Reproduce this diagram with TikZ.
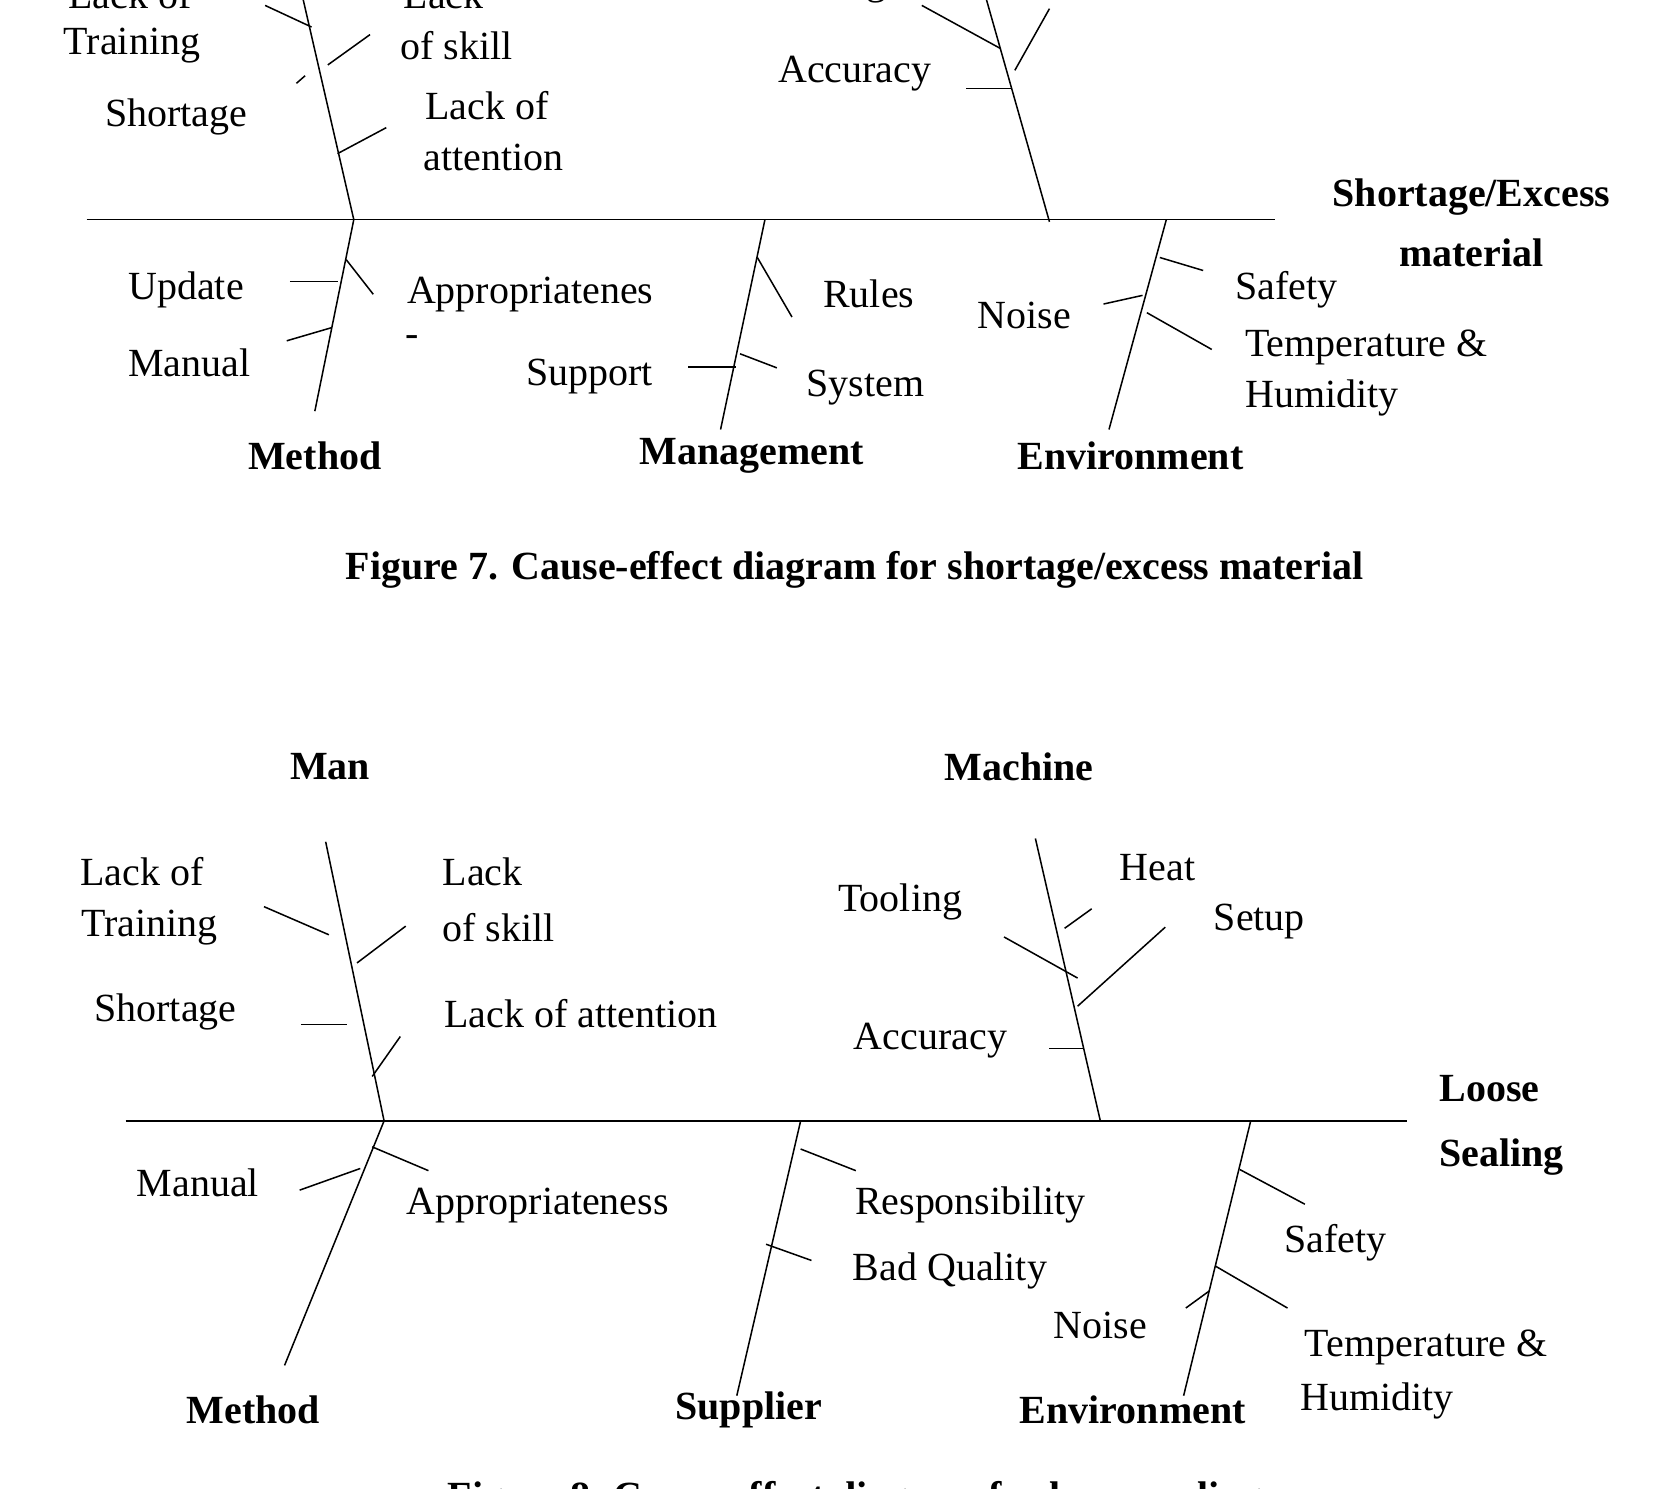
\documentclass[tikz,border=0pt]{standalone}
\usepackage{fontspec}
\setmainfont{Liberation Serif}
\usepackage{tikz}
\usetikzlibrary{positioning}
\tikzset{
  bone/.style={thin,black},
  cause/.style={font=\fontsize{10.5}{13}\selectfont,inner sep=0pt,align=left},
  group/.style={font=\fontsize{10.5}{13}\selectfont\bfseries,inner sep=0pt},
  caption/.style={font=\fontsize{10.5}{12}\selectfont\bfseries,inner sep=0pt}
}
\begin{document}
\begin{tikzpicture}[x=0.01cm,y=-0.01cm]
  \useasboundingbox[fill=white] (0,0) rectangle (1550,1376);

  %%% figure 7
  %main
  \coordinate (sA) at (80,203);
  \coordinate (hA) at (1178,203);
  \draw[bone] (sA) -- (hA);
  \node[group,align=center] (effA) at (1360,206) {Shortage/Excess\\[3pt]material};

  %man bone
  \coordinate (manA) at (278,-10);
  \coordinate (manAe) at (327,203);
  \draw[bone] (manA) -- (manAe);
  \draw[bone] (245,5) -- (288,25);
  \draw[bone] (303,60) -- (342,32);
  \draw[bone] (274,77) -- (282,70);
  \draw[bone] (312,142) -- (357,118);
  \node[cause] (trainA0) at (120,-5) {Lack of};
  \node[cause] (trainA) at (122,42) {Training};
  \node[cause] (skillA0) at (410,-5) {Lack};
  \node[cause] (skillA) at (422,42) {of skill};
  \node[cause] (shortA) at (163,108) {Shortage};
  \node[cause] (attA0) at (450,98) {Lack of};
  \node[cause] (attA) at (456,146) {attention};

  %machine bone
  \coordinate (macA) at (909,-10);
  \coordinate (macAe) at (970,205);
  \draw[bone] (macA) -- (macAe);
  \draw[bone] (852,5) -- (925,45);
  \draw[bone] (938,65) -- (970,8);
  \draw[bone] (893,82) -- (935,82);
  \node[cause] (toolA) at (762,-14) {Tooling};
  \node[cause] (accA) at (790,68) {Accuracy};

  %method bone
  \coordinate (metAe) at (291,380);
  \draw[bone] (manAe) -- (metAe);
  \draw[bone] (268,260) -- (312,260);
  \draw[bone] (320,240) -- (345,272);
  \draw[bone] (265,315) -- (306,303);
  \node[cause] (updA) at (172,268) {Update};
  \node[cause] (manuA) at (175,335) {Manual};
  \node[cause] (appA) at (490,272) {Appropriatenes};
  \node[cause] (dashA) at (381,315) {-};
  \node[group] (metA) at (291,421) {Method};

  %management bone
  \coordinate (mgtAs) at (707,203);
  \coordinate (mgtAe) at (666,397);
  \draw[bone] (mgtAs) -- (mgtAe);
  \draw[bone] (700,238) -- (732,293);
  \draw[bone] (636,339) -- (680,339);
  \draw[bone] (684,327) -- (718,340);
  \node[cause] (ruleA) at (803,272) {Rules};
  \node[cause] (suppA) at (545,348) {Support};
  \node[cause] (sysA) at (800,358) {System};
  \node[group] (mgtA) at (695,421) {Management};

  %environment bone
  \coordinate (envAs) at (1078,203);
  \coordinate (envAe) at (1025,397);
  \draw[bone] (envAs) -- (envAe);
  \draw[bone] (1072,238) -- (1112,250);
  \draw[bone] (1020,281) -- (1056,273);
  \draw[bone] (1060,289) -- (1120,323);
  \node[cause] (noiseA) at (947,292) {Noise};
  \node[cause] (safeA) at (1189,268) {Safety};
  \node[cause] (tempA) at (1263,321) {Temperature \&};
  \node[cause] (humA) at (1222,368) {Humidity};
  \node[group] (envA) at (1045,421) {Environment};

  \node[caption] (capA) at (790,527) {Figure 7. Cause-effect diagram for shortage/excess material};

  %%% figure 8
  %main
  \coordinate (sB) at (116,1036);
  \coordinate (hB) at (1300,1036);
  \draw[bone] (sB) -- (hB);
  \node[group,align=left] (effB) at (1388,1040) {Loose\\[4pt]Sealing};

  %man bone
  \node[group] (manB) at (305,709) {Man};
  \coordinate (manBs) at (301,778);
  \coordinate (manBe) at (355,1036);
  \draw[bone] (manBs) -- (manBe);
  \draw[bone] (244,838) -- (304,864);
  \draw[bone] (330,890) -- (375,856);
  \draw[bone] (278,947) -- (321,947);
  \draw[bone] (344,995) -- (370,958);
  \node[cause] (trainB0) at (131,806) {Lack of};
  \node[cause] (trainB) at (138,857) {Training};
  \node[cause] (skillB0) at (446,806) {Lack};
  \node[cause] (skillB) at (461,857) {of skill};
  \node[cause] (shortB) at (153,935) {Shortage};
  \node[cause] (attB) at (537,937) {Lack of attention};

  %machine bone
  \node[group] (macB) at (942,709) {Machine};
  \coordinate (macBs) at (957,775);
  \coordinate (macBe) at (1017,1036);
  \draw[bone] (macBs) -- (macBe);
  \draw[bone] (984,858) -- (1009,840);
  \draw[bone] (928,866) -- (996,904);
  \draw[bone] (996,930) -- (1077,857);
  \draw[bone] (970,969) -- (1002,969);
  \node[cause] (heatB) at (1070,802) {Heat};
  \node[cause] (toolB) at (832,834) {Tooling};
  \node[cause] (setB) at (1164,852) {Setup};
  \node[cause] (accB) at (860,962) {Accuracy};

  %method bone
  \coordinate (metBe) at (263,1262);
  \draw[bone] (manBe) -- (metBe);
  \draw[bone] (344,1060) -- (396,1082);
  \draw[bone] (277,1100) -- (333,1080);
  \node[cause] (manuB) at (183,1093) {Manual};
  \node[cause] (appB) at (497,1114) {Appropriateness};
  \node[group] (metB) at (234,1303) {Method};

  %supplier bone
  \coordinate (supBs) at (740,1036);
  \coordinate (supBe) at (681,1290);
  \draw[bone] (supBs) -- (supBe);
  \draw[bone] (740,1062) -- (791,1082);
  \draw[bone] (708,1150) -- (750,1165);
  \node[cause] (respB) at (897,1114) {Responsibility};
  \node[cause] (badB) at (878,1175) {Bad Quality};
  \node[group] (supB) at (692,1303) {Supplier};

  %environment bone
  \coordinate (envBs) at (1156,1036);
  \coordinate (envBe) at (1094,1290);
  \draw[bone] (envBs) -- (envBe);
  \draw[bone] (1146,1081) -- (1206,1113);
  \draw[bone] (1123,1170) -- (1190,1209);
  \draw[bone] (1096,1209) -- (1118,1193);
  \node[cause] (safeB) at (1234,1149) {Safety};
  \node[cause] (noiseB) at (1017,1225) {Noise};
  \node[cause] (tempB) at (1318,1245) {Temperature \&};
  \node[cause] (humB) at (1273,1295) {Humidity};
  \node[group] (envB) at (1047,1303) {Environment};

  \node[caption] (capB) at (790,1386) {Figure 8. Cause-effect diagram for loose sealing};
\end{tikzpicture}
\end{document}
